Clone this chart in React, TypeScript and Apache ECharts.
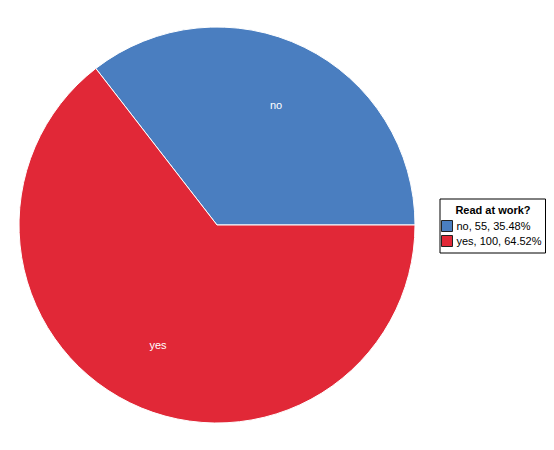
import React, { useEffect, useRef } from "react";
import * as echarts from "echarts";

const categories = ["no", "yes"];
const counts = [55, 100];
const percents = ["35.48%", "64.52%"];
const colors = ["#4A7EC0", "#E12837"];
const legendTitle = "Read at work?";

export default function App() {
  const ref = useRef<HTMLDivElement>(null);
  useEffect(() => {
    document.body.style.margin = "0";
    const chart = echarts.init(ref.current!, null, { renderer: "svg" });
    const data = categories.map((c, i) => ({
      name: c,
      value: counts[i],
      itemStyle: { color: colors[i] },
    }));
    chart.setOption({
      animation: false,
      backgroundColor: "#fff",
      graphic: [
        {
          type: "text",
          x: 493,
          y: 210,
          style: {
            text: legendTitle,
            font: "bold 11px Arial, 'Liberation Sans', sans-serif",
            fill: "#000",
            textAlign: "center",
            textVerticalAlign: "middle",
          },
          z: 10,
        },
      ],
      legend: {
        orient: "vertical",
        left: 440,
        top: 199,
        padding: [21, 4, 6, 1],
        borderColor: "#000",
        borderWidth: 1,
        itemWidth: 11,
        itemHeight: 11,
        itemGap: 3,
        icon: "rect",
        selectedMode: false,
        textStyle: {
          fontFamily: "Arial, 'Liberation Sans', sans-serif",
          fontSize: 11,
          color: "#000",
          padding: [0, 0, 0, -1],
        },
        data: categories.map((c, i) => ({
          name: c,
          itemStyle: { color: colors[i], borderColor: "#222", borderWidth: 1 },
        })),
        formatter: (name: string) => {
          const i = categories.indexOf(name);
          return `${name}, ${counts[i]}, ${percents[i]}`;
        },
      },
      series: [
        {
          type: "pie",
          center: [217, 225],
          radius: 198,
          startAngle: 0,
          clockwise: false,
          silent: true,
          label: { show: false },
          labelLine: { show: false },
          itemStyle: { borderColor: "#fff", borderWidth: 1 },
          emphasis: { disabled: true },
          data,
        },
        {
          type: "pie",
          center: [217, 225],
          radius: [64, 198],
          startAngle: 0,
          clockwise: false,
          silent: true,
          itemStyle: { color: "rgba(0,0,0,0)", borderWidth: 0 },
          label: {
            show: true,
            position: "inside",
            color: "#fff",
            fontSize: 11,
            fontFamily: "Arial, 'Liberation Sans', sans-serif",
            formatter: "{b}",
          },
          labelLine: { show: false },
          emphasis: { disabled: true },
          data: categories.map((c, i) => ({ name: c, value: counts[i] })),
        },
      ],
    });
    return () => chart.dispose();
  }, []);
  return <div ref={ref} style={{ width: 554, height: 450 }} />;
}
